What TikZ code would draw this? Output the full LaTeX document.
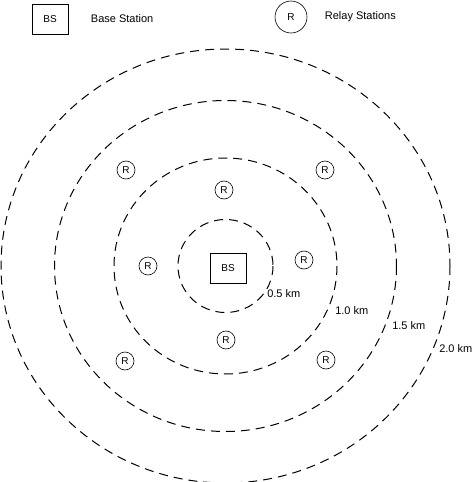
\documentclass[tikz,border=0pt]{standalone}
\usepackage{fontspec}
\setmainfont{Liberation Sans}
\usetikzlibrary{positioning}

\begin{document}
\begin{tikzpicture}[x=1pt,y=-1pt,semithick,
   every node/.style={font=\fontsize{11}{13}\selectfont},
   station/.style={draw, minimum width=36pt, minimum height=30pt, inner sep=0pt, font=\fontsize{10}{12}\selectfont},
   relay/.style={draw, circle, minimum size=18pt, inner sep=0pt, font=\fontsize{10}{12}\selectfont},
   ring/.style={dash pattern=on 9pt off 6pt, line width=1pt},
   radius label/.style={anchor=west, inner sep=1pt}]

\path[use as bounding box, clip] (0,0) rectangle (474,482);

% Legend
\node[station] (legbs) at (50,19) {BS};
\node[right = 19pt of legbs] (legbstext) {Base Station};
\node[relay, minimum size=32pt] (legrelay) at (291,17) {R};
\node[right = 14pt of legrelay] (legrelaytext) {Relay Stations};

% Coverage rings
\coordinate (centre) at (225.5,266);
\draw[ring] (centre) ellipse [x radius=47.5, y radius=46.5];
\draw[ring] (centre) ellipse [x radius=111.5, y radius=108];
\draw[ring] (centre) ellipse [x radius=171, y radius=165.5];
\draw[ring] (centre) ellipse [x radius=224.5, y radius=217];

\node[radius label] (ring1) at (266,294) {0.5 km};
\node[radius label] (ring2) at (334,311) {1.0 km};
\node[radius label] (ring3) at (391,326) {1.5 km};
\node[radius label] (ring4) at (438,349) {2.0 km};

% Stations
\node[station] (bs) at (228,268) {BS};

\node[relay] (r1) at (126,170) {R};
\node[relay] (r2) at (224,190) {R};
\node[relay] (r3) at (325,170) {R};
\node[relay] (r4) at (148,266) {R};
\node[relay] (r5) at (304,260) {R};
\node[relay] (r6) at (226,340) {R};
\node[relay] (r7) at (125,361) {R};
\node[relay] (r8) at (326,360) {R};

\end{tikzpicture}
\end{document}
